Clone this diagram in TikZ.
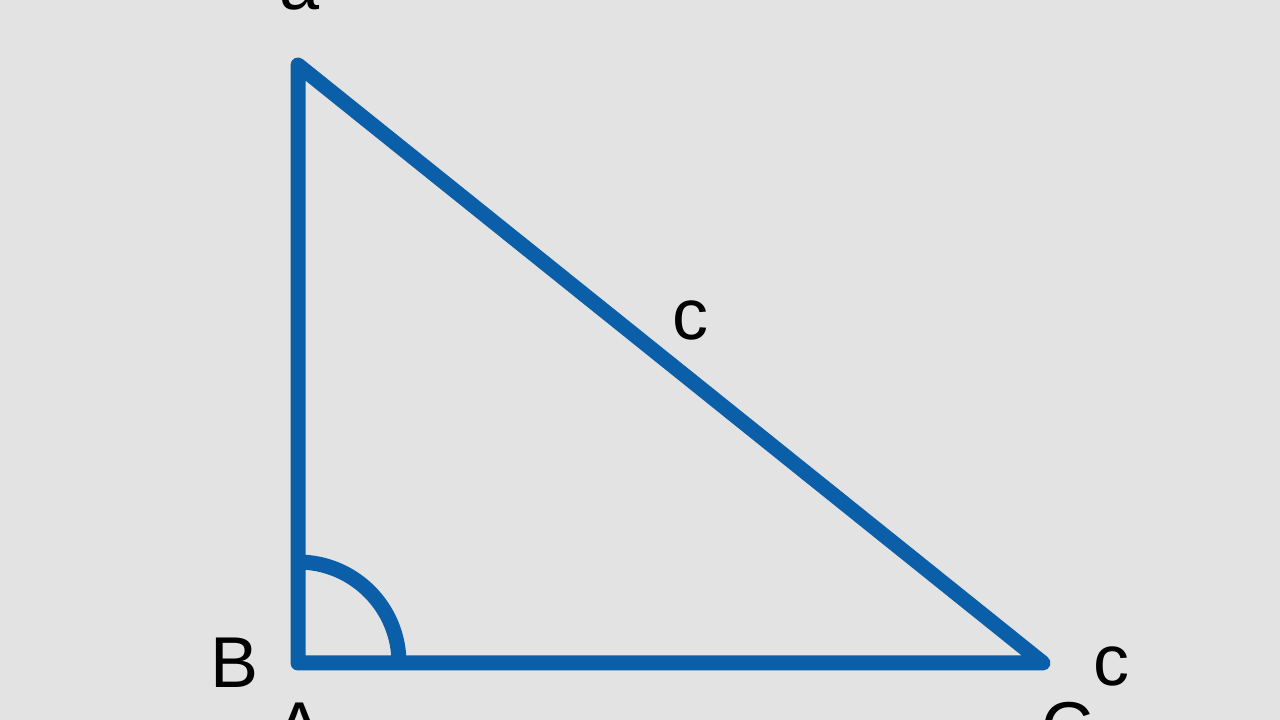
\documentclass[tikz,border=0pt]{standalone}
\usepackage{fontspec}
\setmainfont{Liberation Sans}
\definecolor{sideblue}{RGB}{11,94,168}
\definecolor{paper}{RGB}{227,227,227}
\tikzset{
  side/.style={draw=sideblue,line width=15pt,line join=round,line cap=round},
  lbl/.style={anchor=base,inner sep=0pt,font=\fontsize{72}{86}\selectfont}
}
\begin{document}
\begin{tikzpicture}[x=1pt,y=1pt]
  % frame
  \useasboundingbox (0,0) rectangle (1280,720);
  \clip (0,0) rectangle (1280,720);
  \fill[paper] (0,0) rectangle (1280,720);
  % corners
  \coordinate (A) at (298,57);
  \coordinate (B) at (298,655);
  \coordinate (C) at (1043,57);
  % triangle
  \draw[side] (B) -- (A) -- (C) -- cycle;
  % right angle mark
  \draw[side,line cap=butt] ([xshift=101pt]A) arc[start angle=0,end angle=90,radius=101pt];
  % labels
  \node[lbl] (la) at (300,710){a};
  \node[lbl] (lA) at (300,-33){A};
  \node[lbl] (lB) at (235,32){B};
  \node[lbl] (lc) at (690,380){c};
  \node[lbl] (lcr) at (1111,34){c};
  \node[lbl] (lC) at (1067,-33){C};
\end{tikzpicture}
\end{document}
